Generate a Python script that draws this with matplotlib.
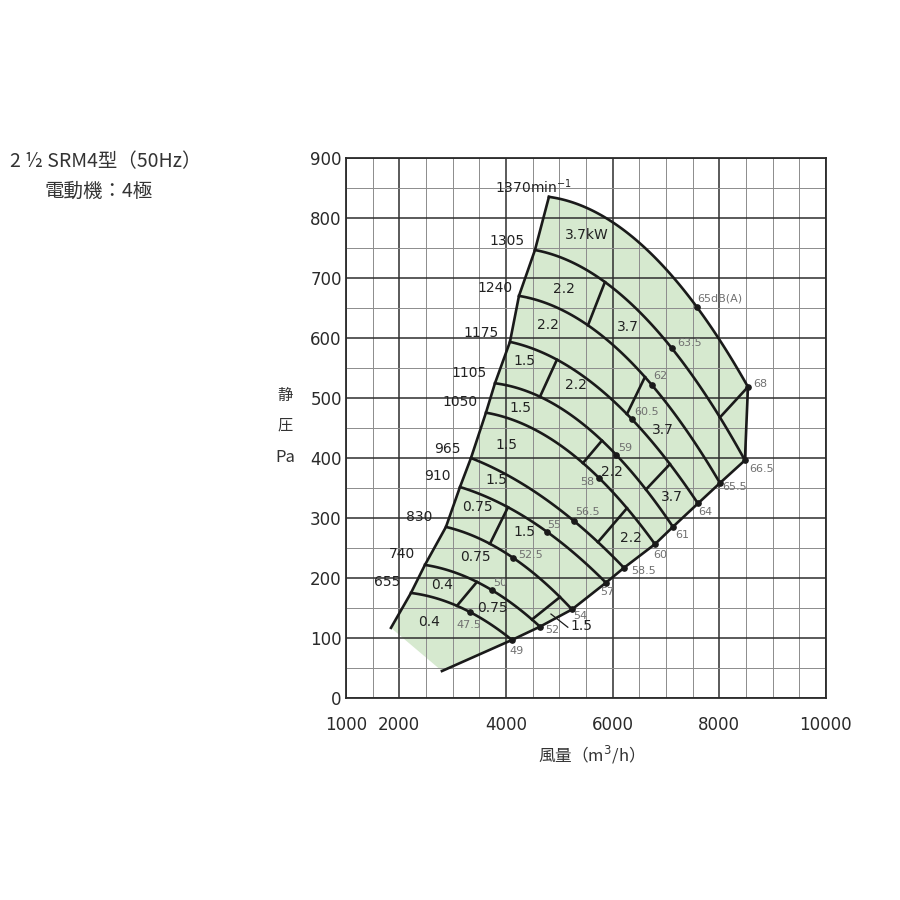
import numpy as np
import matplotlib.pyplot as plt

plt.rcParams['font.family'] = ['DejaVu Sans', 'Noto Sans CJK JP']

# 回転数ごとの性能曲線 (風量 m3/h, 静圧 Pa)
speeds = [1370, 1305, 1240, 1175, 1105, 1050, 965, 910, 830, 740, 655]
curve_q = [
    [4806, 5200, 6006, 6700, 7581, 8538],
    [4544, 5200, 5820, 7113, 8013, 8481],
    [4244, 4881, 5538, 6738, 8013],
    [4075, 4956, 5669, 6363, 7600],
    [3794, 4638, 5800, 6063, 7131],
    [3625, 5444, 5744, 6269, 6794],
    [3344, 5275, 5725, 6213],
    [3138, 4038, 4769, 5875],
    [2875, 4131, 5013, 5238],
    [2481, 3456, 3738, 4488, 4638],
    [2219, 3081, 3325, 4113],
]
curve_p = [
    [832, 830, 798, 738, 650, 520],
    [743, 730, 702, 578, 462, 402],
    [667, 658, 623, 517, 360],
    [592, 568, 520, 463, 325],
    [522, 508, 427, 403, 287],
    [475, 397, 365, 310, 260],
    [400, 295, 260, 217],
    [352, 317, 278, 192],
    [285, 235, 165, 150],
    [222, 193, 180, 132, 118],
    [175, 155, 142, 97],
]

# 騒音値 (曲線の途中と終点)
db_mid_q = [7581, 7113, 6738, 6363, 6063, 5744, 5275, 4769, 4131, 3738, 3325]
db_mid = ['65dB(A)', '63.5', '62', '60.5', '59', '58', '56.5', '55', '52.5', '50', '47.5']
db_end = ['68', '66.5', '65.5', '64', '61', '60', '58.5', '57', '54', '52', '49']

# 動力区分の仕切り線 (上の曲線の風量, 下の曲線の風量)
div_upper = [0, 1, 2, 3, 3, 4, 5, 7, 8, 9]
div_q_upper = [8538, 5856, 6606, 4956, 7075, 5800, 6269, 4038, 5013, 3456]
div_q_lower = [8013, 5538, 6269, 4638, 6625, 5444, 5725, 3700, 4488, 3081]

# 動力 kW ラベル
kw_text = ['3.7kW', '2.2', '3.7', '2.2', '3.7', '1.5', '2.2', '3.7', '1.5', '2.2',
           '1.5', '2.2', '1.5', '0.75', '1.5', '0.75', '0.4', '0.75', '0.4']
kw_q = [5513, 5088, 6278, 4788, 6944, 4356, 5313, 7113, 4263, 5988,
        4013, 6344, 3831, 3456, 4338, 3419, 2809, 3756, 2556]
kw_p = [772, 682, 619, 622, 447, 561, 522, 335, 483, 377,
        422, 266, 363, 319, 277, 235, 188, 150, 127]

# 回転数ラベル位置
spd_q = [4525, 4028, 3794, 3531, 3306, 3138, 2903, 2716, 2369, 2059, 1778]
spd_p = [852, 762, 683, 608, 542, 493, 415, 370, 302, 240, 193]

# 範囲の下端
left_low = (1844, 117)
bottom_low = (2800, 45)

x_ticks = [1000, 2000, 4000, 6000, 8000, 10000]
y_ticks = list(range(0, 901, 100))

line_c = '#1a1a1a'
fill_c = '#d6e9cf'

fig = plt.figure(figsize=(9, 9), dpi=100)
ax = fig.add_axes([0.3844, 0.2244, 0.5333, 0.6])
ax.set_xlim(1000, 10000)
ax.set_ylim(0, 900)
ax.set_xticks(x_ticks)
ax.set_xticks(np.arange(1000, 10001, 500), minor=True)
ax.set_yticks(y_ticks)
ax.set_yticks(np.arange(0, 901, 50), minor=True)
ax.set_axisbelow(True)
ax.grid(which='major', color='#2e2e2e', lw=1.1)
ax.grid(which='minor', color='#8c8c8c', lw=0.7)
ax.tick_params(which='both', length=0, labelcolor='#2a2a2a')
ax.tick_params(axis='x', pad=13, labelsize=12)
ax.tick_params(axis='y', pad=3, labelsize=12)
for s in ax.spines.values():
    s.set_color('#2a2a2a')
    s.set_linewidth(1.3)

fits = [np.polyfit(q, p, 2) for q, p in zip(curve_q, curve_p)]
q0 = [q[0] for q in curve_q]
q1 = [q[-1] for q in curve_q]
p0 = [np.polyval(f, q) for f, q in zip(fits, q0)]
p1 = [np.polyval(f, q) for f, q in zip(fits, q1)]

# 緑の運転範囲
top_q = np.linspace(q0[0], q1[0], 80)
poly_q = list(top_q) + q1[1:] + [bottom_low[0], left_low[0]] + q0[::-1][:-1]
poly_p = list(np.polyval(fits[0], top_q)) + p1[1:] + [bottom_low[1], left_low[1]] + p0[::-1][:-1]
ax.fill(poly_q, poly_p, color=fill_c, zorder=0.2, lw=0)

# 曲線
for f, a, b in zip(fits, q0, q1):
    qq = np.linspace(a, b, 100)
    ax.plot(qq, np.polyval(f, qq), color=line_c, lw=1.9, zorder=3)

# 左の境界線
ax.plot(q0 + [left_low[0]], p0 + [left_low[1]], color=line_c, lw=1.9, zorder=3)
# 下の境界線と右端
ax.plot([q1[0]] + q1[1:] + [bottom_low[0]], [p1[0]] + p1[1:] + [bottom_low[1]],
        color=line_c, lw=1.9, zorder=3)

# 仕切り線
for i, qa, qb in zip(div_upper, div_q_upper, div_q_lower):
    ax.plot([qa, qb], [np.polyval(fits[i], qa), np.polyval(fits[i + 1], qb)],
            color=line_c, lw=1.9, zorder=3)

# 騒音の点とラベル
mid_off = [(0, 6.5), (3.5, 4), (1, 6.5), (1.5, 5), (1.5, 5), (-3, -3),
           (1, 6.5), (0, 5), (3.5, 2), (1, 5), (-1, -9.5)]
mid_ha = ['left'] * 5 + ['right'] + ['left'] * 4 + ['center']
end_off = [(4, 2), (3, -6), (2, -3), (0, -6), (1.5, -6), (-1.5, -8),
           (5.5, -2), (-4, -7), (1, -4.5), (3.5, -2.5), (-1.5, -8)]
for i in range(len(speeds)):
    pm = np.polyval(fits[i], db_mid_q[i])
    ax.plot(db_mid_q[i], pm, 'o', ms=3.8, color=line_c, zorder=4)
    ax.annotate(db_mid[i], (db_mid_q[i], pm), xytext=mid_off[i], textcoords='offset points',
                ha=mid_ha[i], va='center', fontsize=8, color='#707070', zorder=5)
    ax.plot(q1[i], p1[i], 'o', ms=3.8, color=line_c, zorder=4)
    ax.annotate(db_end[i], (q1[i], p1[i]), xytext=end_off[i], textcoords='offset points',
                ha='left', va='center', fontsize=8, color='#707070', zorder=5)

# kW
for t, q, p in zip(kw_text, kw_q, kw_p):
    ax.text(q, p, t, ha='center', va='center', fontsize=10, color='#222222', zorder=5)
ax.plot([4844, 5160], [140, 118], color=line_c, lw=0.9, zorder=4)
ax.text(5200, 120, '1.5', ha='left', va='center', fontsize=10, color='#222222', zorder=5)

# 回転数
for i, (q, p) in enumerate(zip(spd_q, spd_p)):
    t = '1370min$^{-1}$' if i == 0 else str(speeds[i])
    ax.text(q, p, t, ha='center', va='center', fontsize=10, color='#222222', zorder=5)

cjk = ['Noto Sans CJK JP', 'DejaVu Sans']
fig.text(0.011, 0.82, '2 ½ SRM4型（50Hz）', family=cjk, fontsize=14, color='#333333', va='center')
fig.text(0.05, 0.787, '電動機：4極', family=cjk, fontsize=14, color='#333333', va='center')
fig.text(0.317, 1 - 395 / 900, '静', family=cjk, fontsize=11, color='#333333', ha='center', va='center')
fig.text(0.317, 1 - 425 / 900, '圧', family=cjk, fontsize=11, color='#333333', ha='center', va='center')
fig.text(0.317, 1 - 458 / 900, 'Pa', family=cjk, fontsize=12, color='#333333', ha='center', va='center')
fig.text(0.652, 1 - 755 / 900, '風量（m$^3$/h）', family=cjk, fontsize=12, color='#333333',
         ha='center', va='center')

fig.savefig('out.png', dpi=100, facecolor='white')
